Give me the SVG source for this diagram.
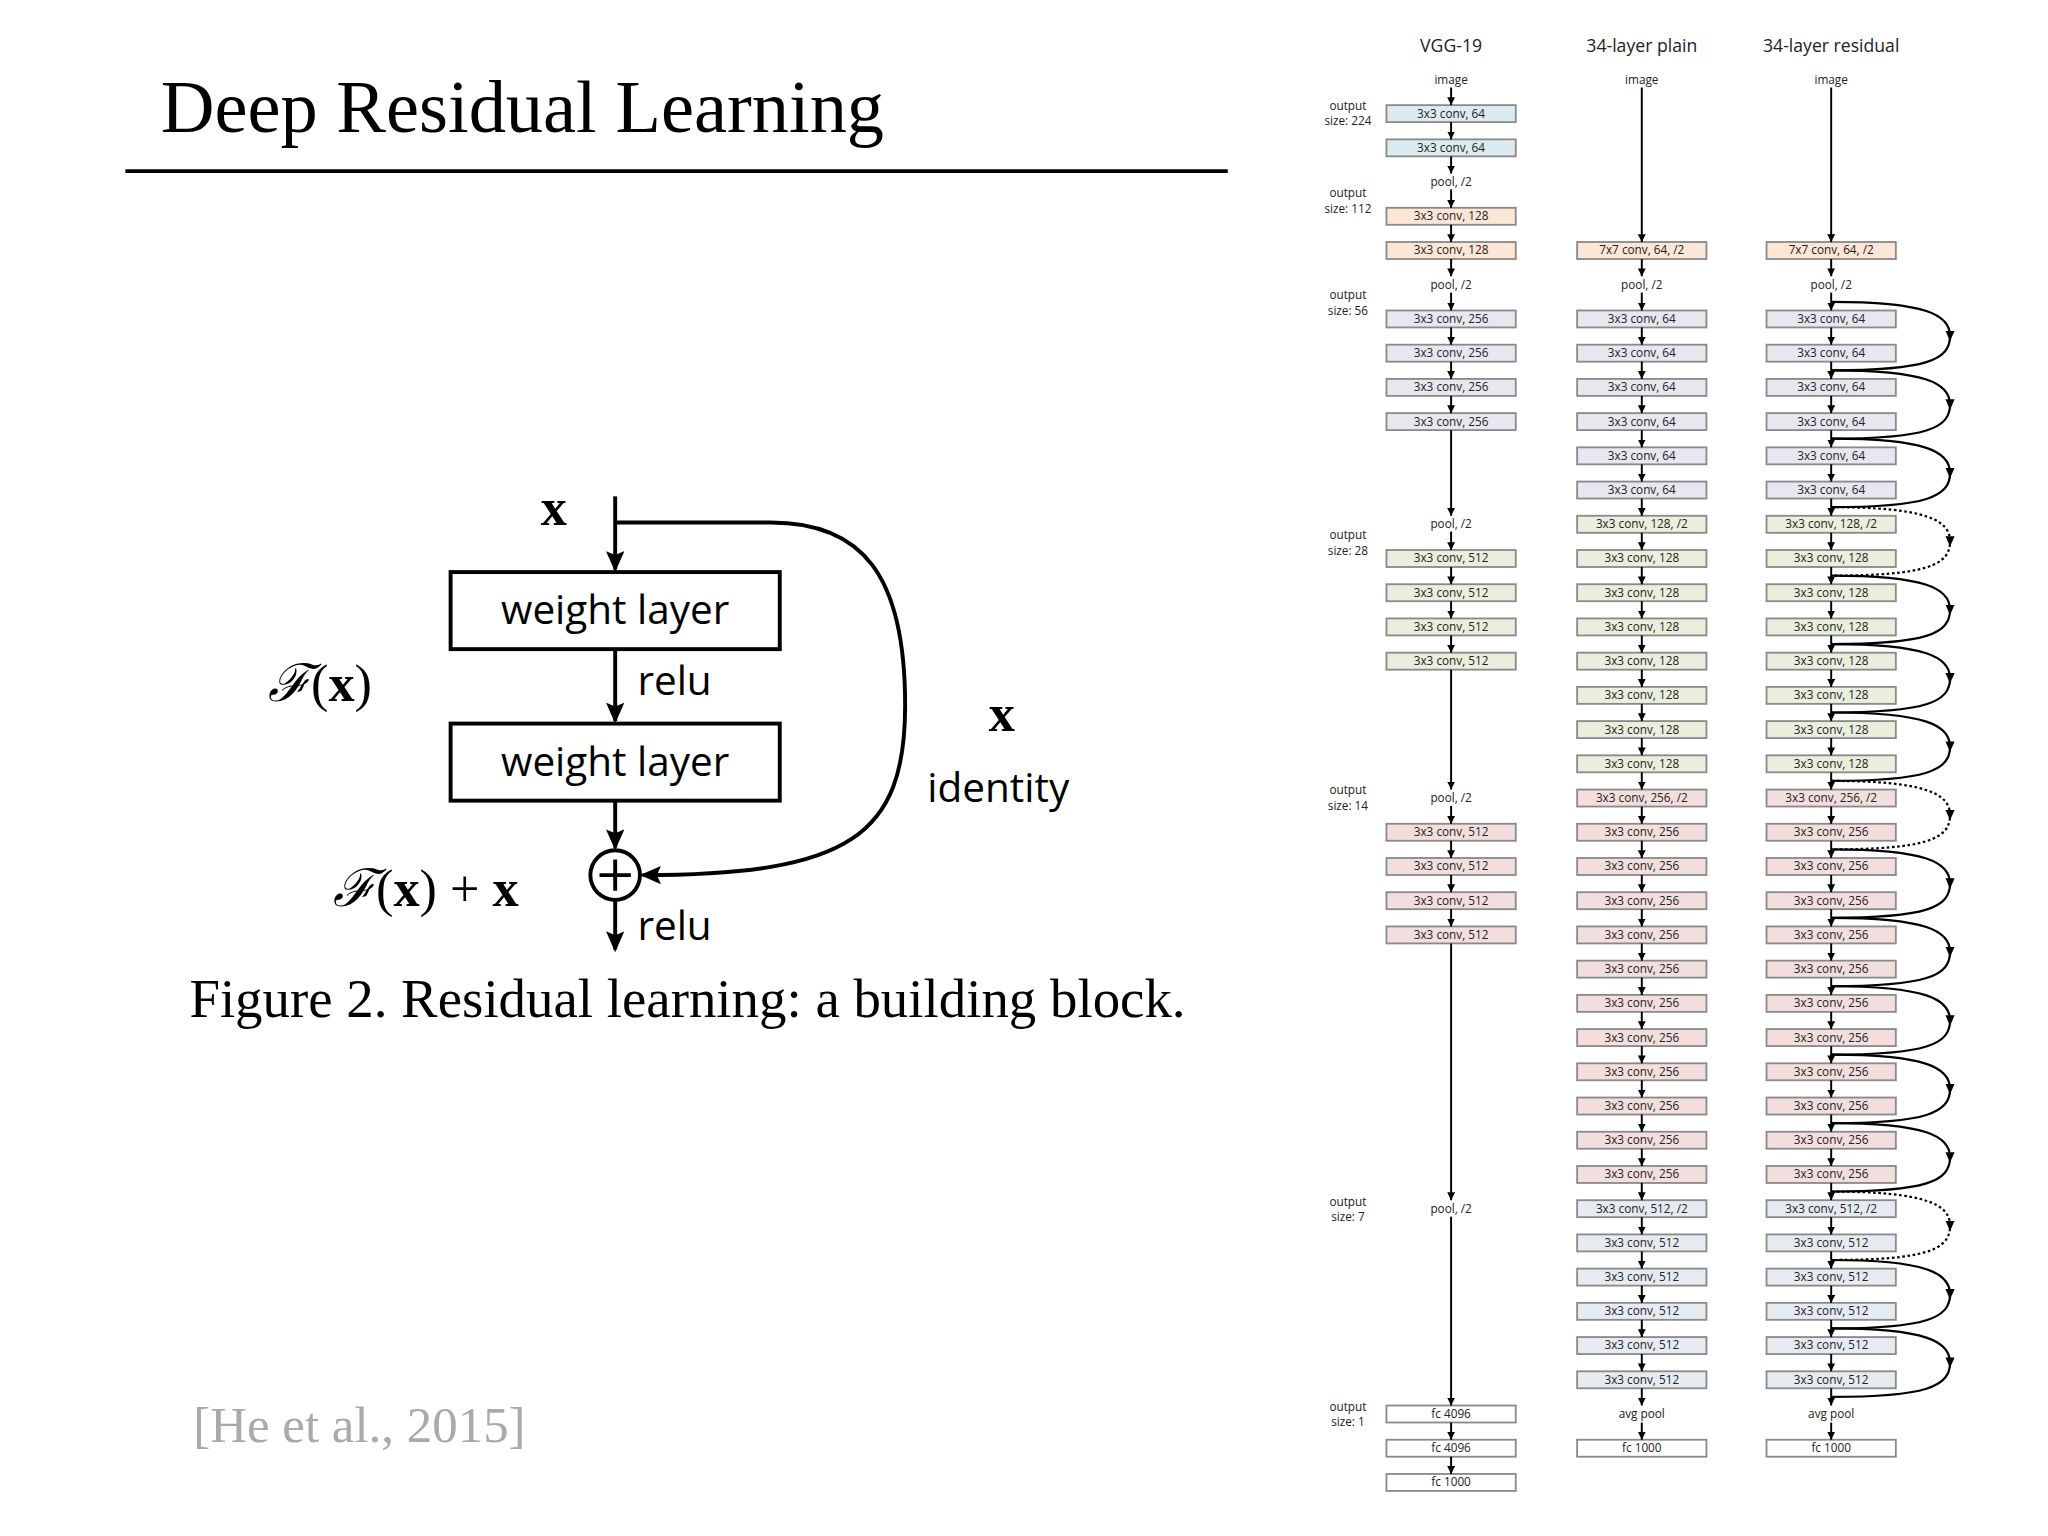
<svg xmlns="http://www.w3.org/2000/svg" width="2048" height="1536" viewBox="0 0 2048 1536">
<style>
.b{stroke:#8a8a8a;stroke-width:1.4}
.t{font-family:"Open Sans","Liberation Sans",sans-serif;font-size:9px;text-anchor:middle;fill:#222}
.h{font-family:"Open Sans","Liberation Sans",sans-serif;font-size:13.5px;text-anchor:middle;fill:#222}
.o{font-family:"Open Sans","Liberation Sans",sans-serif;font-size:9px;text-anchor:middle;fill:#222}
.a{stroke:#000;stroke-width:1.5;fill:none;marker-end:url(#ah)}
.s{stroke:#000;stroke-width:1.7;fill:none;marker-mid:url(#am)}
.d{stroke:#000;stroke-width:1.7;fill:none;stroke-dasharray:2 2;marker-mid:url(#am)}
.c1{fill:#dcebf0}.c2{fill:#fce6d6}.c3{fill:#e8e7f0}.c4{fill:#e9efdc}.c5{fill:#f3dede}.c6{fill:#e5ebf1}.c7{fill:#fff}
.L{font-family:"Open Sans","Liberation Sans",sans-serif;font-size:31px;fill:#000}
.F{font-family:"Liberation Serif",serif}
.fl{stroke:#000;stroke-width:3;fill:none}
.fa{stroke:#000;stroke-width:3;fill:none;marker-end:url(#fh)}
</style>
<defs>
<marker id="ah" markerUnits="userSpaceOnUse" markerWidth="8" markerHeight="8" refX="6" refY="3" orient="auto"><path d="M0,0L6,3L0,6z" fill="#000"/></marker>
<marker id="am" markerUnits="userSpaceOnUse" markerWidth="10" markerHeight="10" refX="4" refY="3.5" orient="auto"><path d="M0,0L8,3.5L0,7z" fill="#000"/></marker>
<marker id="fh" markerUnits="userSpaceOnUse" markerWidth="20" markerHeight="20" refX="14" refY="7" orient="auto"><path d="M0,0L16,7L0,14L3,7z" fill="#000"/></marker>
</defs>
<rect width="2048" height="1536" fill="#fff"/>
<g transform="scale(1.30612)">
<g id="left">
<text x="123" y="101" class="F" font-size="57" fill="#000">Deep Residual Learning</text>
<line x1="96" y1="131" x2="940" y2="131" stroke="#000" stroke-width="3"/>
<g id="wl1"><rect x="345" y="438" width="252" height="59" class="fl"/><text x="471" y="478" class="L" text-anchor="middle">weight layer</text></g>
<g id="wl2"><rect x="345" y="554" width="252" height="59" class="fl"/><text x="471" y="594" class="L" text-anchor="middle">weight layer</text></g>
<g id="plus"><circle cx="471" cy="670" r="19" class="fl"/><path d="M471,658V682M459,670H483" class="fl"/></g>
<g id="fconn">
<path d="M471,380V436" class="fa"/>
<path d="M471,497V552" class="fa"/>
<path d="M471,613V649" class="fa"/>
<path d="M471,689V727" class="fa"/>
<path d="M471,400H590C660,400 693,440 693,540C693,640 650,670 492,670" class="fa"/>
</g>
<text x="424" y="402" class="F" font-size="40" font-weight="bold" text-anchor="middle" fill="#000">x</text>
<text x="245" y="537" class="F" font-size="40" text-anchor="middle" fill="#000"><tspan font-style="italic">ℱ</tspan>(<tspan font-weight="bold">x</tspan>)</text>
<text x="488" y="532" class="L">relu</text>
<text x="767" y="560" class="F" font-size="40" font-weight="bold" text-anchor="middle" fill="#000">x</text>
<text x="710" y="614" class="L" font-size="32">identity</text>
<text x="326" y="694" class="F" font-size="40" text-anchor="middle" fill="#000"><tspan font-style="italic">ℱ</tspan>(<tspan font-weight="bold">x</tspan>) + <tspan font-weight="bold">x</tspan></text>
<text x="488" y="720" class="L">relu</text>
<text x="145" y="779" class="F" font-size="42" fill="#000">Figure 2. Residual learning: a building block.</text>
<text x="148" y="1104" class="F" font-size="39" fill="#aaaaaa">[He et al., 2015]</text>
</g>
<g id="titles">
<text x="1111" y="40" class="h">VGG-19</text><text x="1257" y="40" class="h">34-layer plain</text><text x="1402" y="40" class="h">34-layer residual</text>
<text x="1111" y="64" class="t">image</text><text x="1257" y="64" class="t">image</text><text x="1402" y="64" class="t">image</text>
<text x="1032" y="84" class="o">output</text><text x="1032" y="96" class="o">size: 224</text>
<text x="1032" y="151" class="o">output</text><text x="1032" y="163" class="o">size: 112</text>
<text x="1032" y="229" class="o">output</text><text x="1032" y="241" class="o">size: 56</text>
<text x="1032" y="413" class="o">output</text><text x="1032" y="425" class="o">size: 28</text>
<text x="1032" y="608" class="o">output</text><text x="1032" y="620" class="o">size: 14</text>
<text x="1032" y="923" class="o">output</text><text x="1032" y="935" class="o">size: 7</text>
<text x="1032" y="1080" class="o">output</text><text x="1032" y="1092" class="o">size: 1</text>
</g>
<g id="vgg">
<rect x="1061.5" y="80.5" width="99" height="13" class="b c1"/><text x="1111" y="90" class="t">3x3 conv, 64</text>
<rect x="1061.5" y="106.7" width="99" height="13" class="b c1"/><text x="1111" y="116.2" class="t">3x3 conv, 64</text>
<text x="1111" y="142.4" class="t">pool, /2</text>
<rect x="1061.5" y="159.1" width="99" height="13" class="b c2"/><text x="1111" y="168.6" class="t">3x3 conv, 128</text>
<rect x="1061.5" y="185.3" width="99" height="13" class="b c2"/><text x="1111" y="194.8" class="t">3x3 conv, 128</text>
<text x="1111" y="221" class="t">pool, /2</text>
<rect x="1061.5" y="237.7" width="99" height="13" class="b c3"/><text x="1111" y="247.2" class="t">3x3 conv, 256</text>
<rect x="1061.5" y="263.9" width="99" height="13" class="b c3"/><text x="1111" y="273.4" class="t">3x3 conv, 256</text>
<rect x="1061.5" y="290.1" width="99" height="13" class="b c3"/><text x="1111" y="299.6" class="t">3x3 conv, 256</text>
<rect x="1061.5" y="316.3" width="99" height="13" class="b c3"/><text x="1111" y="325.8" class="t">3x3 conv, 256</text>
<text x="1111" y="404.4" class="t">pool, /2</text>
<rect x="1061.5" y="421.1" width="99" height="13" class="b c4"/><text x="1111" y="430.6" class="t">3x3 conv, 512</text>
<rect x="1061.5" y="447.3" width="99" height="13" class="b c4"/><text x="1111" y="456.8" class="t">3x3 conv, 512</text>
<rect x="1061.5" y="473.5" width="99" height="13" class="b c4"/><text x="1111" y="483" class="t">3x3 conv, 512</text>
<rect x="1061.5" y="499.7" width="99" height="13" class="b c4"/><text x="1111" y="509.2" class="t">3x3 conv, 512</text>
<text x="1111" y="614" class="t">pool, /2</text>
<rect x="1061.5" y="630.7" width="99" height="13" class="b c5"/><text x="1111" y="640.2" class="t">3x3 conv, 512</text>
<rect x="1061.5" y="656.9" width="99" height="13" class="b c5"/><text x="1111" y="666.4" class="t">3x3 conv, 512</text>
<rect x="1061.5" y="683.1" width="99" height="13" class="b c5"/><text x="1111" y="692.6" class="t">3x3 conv, 512</text>
<rect x="1061.5" y="709.3" width="99" height="13" class="b c5"/><text x="1111" y="718.8" class="t">3x3 conv, 512</text>
<text x="1111" y="928.4" class="t">pool, /2</text>
<rect x="1061.5" y="1076.1" width="99" height="13" class="b c7"/><text x="1111" y="1085.6" class="t">fc 4096</text>
<rect x="1061.5" y="1102.3" width="99" height="13" class="b c7"/><text x="1111" y="1111.8" class="t">fc 4096</text>
<rect x="1061.5" y="1128.5" width="99" height="13" class="b c7"/><text x="1111" y="1138" class="t">fc 1000</text>
</g>
<g id="plain">
<rect x="1207.5" y="185.3" width="99" height="13" class="b c2"/><text x="1257" y="194.8" class="t">7x7 conv, 64, /2</text>
<text x="1257" y="221" class="t">pool, /2</text>
<rect x="1207.5" y="237.7" width="99" height="13" class="b c3"/><text x="1257" y="247.2" class="t">3x3 conv, 64</text>
<rect x="1207.5" y="263.9" width="99" height="13" class="b c3"/><text x="1257" y="273.4" class="t">3x3 conv, 64</text>
<rect x="1207.5" y="290.1" width="99" height="13" class="b c3"/><text x="1257" y="299.6" class="t">3x3 conv, 64</text>
<rect x="1207.5" y="316.3" width="99" height="13" class="b c3"/><text x="1257" y="325.8" class="t">3x3 conv, 64</text>
<rect x="1207.5" y="342.5" width="99" height="13" class="b c3"/><text x="1257" y="352" class="t">3x3 conv, 64</text>
<rect x="1207.5" y="368.7" width="99" height="13" class="b c3"/><text x="1257" y="378.2" class="t">3x3 conv, 64</text>
<rect x="1207.5" y="394.9" width="99" height="13" class="b c4"/><text x="1257" y="404.4" class="t">3x3 conv, 128, /2</text>
<rect x="1207.5" y="421.1" width="99" height="13" class="b c4"/><text x="1257" y="430.6" class="t">3x3 conv, 128</text>
<rect x="1207.5" y="447.3" width="99" height="13" class="b c4"/><text x="1257" y="456.8" class="t">3x3 conv, 128</text>
<rect x="1207.5" y="473.5" width="99" height="13" class="b c4"/><text x="1257" y="483" class="t">3x3 conv, 128</text>
<rect x="1207.5" y="499.7" width="99" height="13" class="b c4"/><text x="1257" y="509.2" class="t">3x3 conv, 128</text>
<rect x="1207.5" y="525.9" width="99" height="13" class="b c4"/><text x="1257" y="535.4" class="t">3x3 conv, 128</text>
<rect x="1207.5" y="552.1" width="99" height="13" class="b c4"/><text x="1257" y="561.6" class="t">3x3 conv, 128</text>
<rect x="1207.5" y="578.3" width="99" height="13" class="b c4"/><text x="1257" y="587.8" class="t">3x3 conv, 128</text>
<rect x="1207.5" y="604.5" width="99" height="13" class="b c5"/><text x="1257" y="614" class="t">3x3 conv, 256, /2</text>
<rect x="1207.5" y="630.7" width="99" height="13" class="b c5"/><text x="1257" y="640.2" class="t">3x3 conv, 256</text>
<rect x="1207.5" y="656.9" width="99" height="13" class="b c5"/><text x="1257" y="666.4" class="t">3x3 conv, 256</text>
<rect x="1207.5" y="683.1" width="99" height="13" class="b c5"/><text x="1257" y="692.6" class="t">3x3 conv, 256</text>
<rect x="1207.5" y="709.3" width="99" height="13" class="b c5"/><text x="1257" y="718.8" class="t">3x3 conv, 256</text>
<rect x="1207.5" y="735.5" width="99" height="13" class="b c5"/><text x="1257" y="745" class="t">3x3 conv, 256</text>
<rect x="1207.5" y="761.7" width="99" height="13" class="b c5"/><text x="1257" y="771.2" class="t">3x3 conv, 256</text>
<rect x="1207.5" y="787.9" width="99" height="13" class="b c5"/><text x="1257" y="797.4" class="t">3x3 conv, 256</text>
<rect x="1207.5" y="814.1" width="99" height="13" class="b c5"/><text x="1257" y="823.6" class="t">3x3 conv, 256</text>
<rect x="1207.5" y="840.3" width="99" height="13" class="b c5"/><text x="1257" y="849.8" class="t">3x3 conv, 256</text>
<rect x="1207.5" y="866.5" width="99" height="13" class="b c5"/><text x="1257" y="876" class="t">3x3 conv, 256</text>
<rect x="1207.5" y="892.7" width="99" height="13" class="b c5"/><text x="1257" y="902.2" class="t">3x3 conv, 256</text>
<rect x="1207.5" y="918.9" width="99" height="13" class="b c6"/><text x="1257" y="928.4" class="t">3x3 conv, 512, /2</text>
<rect x="1207.5" y="945.1" width="99" height="13" class="b c6"/><text x="1257" y="954.6" class="t">3x3 conv, 512</text>
<rect x="1207.5" y="971.3" width="99" height="13" class="b c6"/><text x="1257" y="980.8" class="t">3x3 conv, 512</text>
<rect x="1207.5" y="997.5" width="99" height="13" class="b c6"/><text x="1257" y="1007" class="t">3x3 conv, 512</text>
<rect x="1207.5" y="1023.7" width="99" height="13" class="b c6"/><text x="1257" y="1033.2" class="t">3x3 conv, 512</text>
<rect x="1207.5" y="1049.9" width="99" height="13" class="b c6"/><text x="1257" y="1059.4" class="t">3x3 conv, 512</text>
<text x="1257" y="1085.6" class="t">avg pool</text>
<rect x="1207.5" y="1102.3" width="99" height="13" class="b c7"/><text x="1257" y="1111.8" class="t">fc 1000</text>
</g>
<g id="residual">
<rect x="1352.5" y="185.3" width="99" height="13" class="b c2"/><text x="1402" y="194.8" class="t">7x7 conv, 64, /2</text>
<text x="1402" y="221" class="t">pool, /2</text>
<rect x="1352.5" y="237.7" width="99" height="13" class="b c3"/><text x="1402" y="247.2" class="t">3x3 conv, 64</text>
<rect x="1352.5" y="263.9" width="99" height="13" class="b c3"/><text x="1402" y="273.4" class="t">3x3 conv, 64</text>
<rect x="1352.5" y="290.1" width="99" height="13" class="b c3"/><text x="1402" y="299.6" class="t">3x3 conv, 64</text>
<rect x="1352.5" y="316.3" width="99" height="13" class="b c3"/><text x="1402" y="325.8" class="t">3x3 conv, 64</text>
<rect x="1352.5" y="342.5" width="99" height="13" class="b c3"/><text x="1402" y="352" class="t">3x3 conv, 64</text>
<rect x="1352.5" y="368.7" width="99" height="13" class="b c3"/><text x="1402" y="378.2" class="t">3x3 conv, 64</text>
<rect x="1352.5" y="394.9" width="99" height="13" class="b c4"/><text x="1402" y="404.4" class="t">3x3 conv, 128, /2</text>
<rect x="1352.5" y="421.1" width="99" height="13" class="b c4"/><text x="1402" y="430.6" class="t">3x3 conv, 128</text>
<rect x="1352.5" y="447.3" width="99" height="13" class="b c4"/><text x="1402" y="456.8" class="t">3x3 conv, 128</text>
<rect x="1352.5" y="473.5" width="99" height="13" class="b c4"/><text x="1402" y="483" class="t">3x3 conv, 128</text>
<rect x="1352.5" y="499.7" width="99" height="13" class="b c4"/><text x="1402" y="509.2" class="t">3x3 conv, 128</text>
<rect x="1352.5" y="525.9" width="99" height="13" class="b c4"/><text x="1402" y="535.4" class="t">3x3 conv, 128</text>
<rect x="1352.5" y="552.1" width="99" height="13" class="b c4"/><text x="1402" y="561.6" class="t">3x3 conv, 128</text>
<rect x="1352.5" y="578.3" width="99" height="13" class="b c4"/><text x="1402" y="587.8" class="t">3x3 conv, 128</text>
<rect x="1352.5" y="604.5" width="99" height="13" class="b c5"/><text x="1402" y="614" class="t">3x3 conv, 256, /2</text>
<rect x="1352.5" y="630.7" width="99" height="13" class="b c5"/><text x="1402" y="640.2" class="t">3x3 conv, 256</text>
<rect x="1352.5" y="656.9" width="99" height="13" class="b c5"/><text x="1402" y="666.4" class="t">3x3 conv, 256</text>
<rect x="1352.5" y="683.1" width="99" height="13" class="b c5"/><text x="1402" y="692.6" class="t">3x3 conv, 256</text>
<rect x="1352.5" y="709.3" width="99" height="13" class="b c5"/><text x="1402" y="718.8" class="t">3x3 conv, 256</text>
<rect x="1352.5" y="735.5" width="99" height="13" class="b c5"/><text x="1402" y="745" class="t">3x3 conv, 256</text>
<rect x="1352.5" y="761.7" width="99" height="13" class="b c5"/><text x="1402" y="771.2" class="t">3x3 conv, 256</text>
<rect x="1352.5" y="787.9" width="99" height="13" class="b c5"/><text x="1402" y="797.4" class="t">3x3 conv, 256</text>
<rect x="1352.5" y="814.1" width="99" height="13" class="b c5"/><text x="1402" y="823.6" class="t">3x3 conv, 256</text>
<rect x="1352.5" y="840.3" width="99" height="13" class="b c5"/><text x="1402" y="849.8" class="t">3x3 conv, 256</text>
<rect x="1352.5" y="866.5" width="99" height="13" class="b c5"/><text x="1402" y="876" class="t">3x3 conv, 256</text>
<rect x="1352.5" y="892.7" width="99" height="13" class="b c5"/><text x="1402" y="902.2" class="t">3x3 conv, 256</text>
<rect x="1352.5" y="918.9" width="99" height="13" class="b c6"/><text x="1402" y="928.4" class="t">3x3 conv, 512, /2</text>
<rect x="1352.5" y="945.1" width="99" height="13" class="b c6"/><text x="1402" y="954.6" class="t">3x3 conv, 512</text>
<rect x="1352.5" y="971.3" width="99" height="13" class="b c6"/><text x="1402" y="980.8" class="t">3x3 conv, 512</text>
<rect x="1352.5" y="997.5" width="99" height="13" class="b c6"/><text x="1402" y="1007" class="t">3x3 conv, 512</text>
<rect x="1352.5" y="1023.7" width="99" height="13" class="b c6"/><text x="1402" y="1033.2" class="t">3x3 conv, 512</text>
<rect x="1352.5" y="1049.9" width="99" height="13" class="b c6"/><text x="1402" y="1059.4" class="t">3x3 conv, 512</text>
<text x="1402" y="1085.6" class="t">avg pool</text>
<rect x="1352.5" y="1102.3" width="99" height="13" class="b c7"/><text x="1402" y="1111.8" class="t">fc 1000</text>
</g>
<g id="connectors">
<path class="a" d="M1111,67V80.5"/>
<path class="a" d="M1111,93.5V106.7"/><path class="a" d="M1111,119.7V132.9"/><path class="a" d="M1111,145V159.1"/><path class="a" d="M1111,172.1V185.3"/><path class="a" d="M1111,198.3V211.5"/><path class="a" d="M1111,224V237.7"/><path class="a" d="M1111,250.7V263.9"/><path class="a" d="M1111,276.9V290.1"/><path class="a" d="M1111,303.1V316.3"/><path class="a" d="M1111,329.3V394.9"/><path class="a" d="M1111,407V421.1"/><path class="a" d="M1111,434.1V447.3"/><path class="a" d="M1111,460.3V473.5"/><path class="a" d="M1111,486.5V499.7"/><path class="a" d="M1111,512.7V604.5"/><path class="a" d="M1111,617V630.7"/><path class="a" d="M1111,643.7V656.9"/><path class="a" d="M1111,669.9V683.1"/><path class="a" d="M1111,696.1V709.3"/><path class="a" d="M1111,722.3V918.9"/><path class="a" d="M1111,931.5V1076.1"/><path class="a" d="M1111,1089.1V1102.3"/><path class="a" d="M1111,1115.3V1128.5"/>
<path class="a" d="M1257,67V185.3"/><path class="a" d="M1257,198.3V211.5"/><path class="a" d="M1257,224V237.7"/><path class="a" d="M1257,250.7V263.9"/><path class="a" d="M1257,276.9V290.1"/><path class="a" d="M1257,303.1V316.3"/><path class="a" d="M1257,329.3V342.5"/><path class="a" d="M1257,355.5V368.7"/><path class="a" d="M1257,381.7V394.9"/><path class="a" d="M1257,407.9V421.1"/><path class="a" d="M1257,434.1V447.3"/><path class="a" d="M1257,460.3V473.5"/><path class="a" d="M1257,486.5V499.7"/><path class="a" d="M1257,512.7V525.9"/><path class="a" d="M1257,538.9V552.1"/><path class="a" d="M1257,565.1V578.3"/><path class="a" d="M1257,591.3V604.5"/><path class="a" d="M1257,617.5V630.7"/><path class="a" d="M1257,643.7V656.9"/><path class="a" d="M1257,669.9V683.1"/><path class="a" d="M1257,696.1V709.3"/><path class="a" d="M1257,722.3V735.5"/><path class="a" d="M1257,748.5V761.7"/><path class="a" d="M1257,774.7V787.9"/><path class="a" d="M1257,800.9V814.1"/><path class="a" d="M1257,827.1V840.3"/><path class="a" d="M1257,853.3V866.5"/><path class="a" d="M1257,879.5V892.7"/><path class="a" d="M1257,905.7V918.9"/><path class="a" d="M1257,931.9V945.1"/><path class="a" d="M1257,958.1V971.3"/><path class="a" d="M1257,984.3V997.5"/><path class="a" d="M1257,1010.5V1023.7"/><path class="a" d="M1257,1036.7V1049.9"/><path class="a" d="M1257,1062.9V1076.1"/><path class="a" d="M1257,1089.1V1102.3"/>
<path class="a" d="M1402,67V185.3"/><path class="a" d="M1402,198.3V211.5"/><path class="a" d="M1402,224V237.7"/><path class="a" d="M1402,250.7V263.9"/><path class="a" d="M1402,276.9V290.1"/><path class="a" d="M1402,303.1V316.3"/><path class="a" d="M1402,329.3V342.5"/><path class="a" d="M1402,355.5V368.7"/><path class="a" d="M1402,381.7V394.9"/><path class="a" d="M1402,407.9V421.1"/><path class="a" d="M1402,434.1V447.3"/><path class="a" d="M1402,460.3V473.5"/><path class="a" d="M1402,486.5V499.7"/><path class="a" d="M1402,512.7V525.9"/><path class="a" d="M1402,538.9V552.1"/><path class="a" d="M1402,565.1V578.3"/><path class="a" d="M1402,591.3V604.5"/><path class="a" d="M1402,617.5V630.7"/><path class="a" d="M1402,643.7V656.9"/><path class="a" d="M1402,669.9V683.1"/><path class="a" d="M1402,696.1V709.3"/><path class="a" d="M1402,722.3V735.5"/><path class="a" d="M1402,748.5V761.7"/><path class="a" d="M1402,774.7V787.9"/><path class="a" d="M1402,800.9V814.1"/><path class="a" d="M1402,827.1V840.3"/><path class="a" d="M1402,853.3V866.5"/><path class="a" d="M1402,879.5V892.7"/><path class="a" d="M1402,905.7V918.9"/><path class="a" d="M1402,931.9V945.1"/><path class="a" d="M1402,958.1V971.3"/><path class="a" d="M1402,984.3V997.5"/><path class="a" d="M1402,1010.5V1023.7"/><path class="a" d="M1402,1036.7V1049.9"/><path class="a" d="M1402,1062.9V1076.1"/><path class="a" d="M1402,1089.1V1102.3"/>
<path class="s" d="M1402,231.1C1475,231.1 1493,241.1 1493,257.3C1493,275.5 1475,283.5 1402,283.5"/>
<path class="s" d="M1402,283.5C1475,283.5 1493,293.5 1493,309.7C1493,327.9 1475,335.9 1402,335.9"/>
<path class="s" d="M1402,335.9C1475,335.9 1493,345.9 1493,362.1C1493,380.3 1475,388.3 1402,388.3"/>
<path class="d" d="M1402,388.3C1475,388.3 1493,398.3 1493,414.5C1493,432.7 1475,440.7 1402,440.7"/>
<path class="s" d="M1402,440.7C1475,440.7 1493,450.7 1493,466.9C1493,485.1 1475,493.1 1402,493.1"/>
<path class="s" d="M1402,493.1C1475,493.1 1493,503.1 1493,519.3C1493,537.5 1475,545.5 1402,545.5"/>
<path class="s" d="M1402,545.5C1475,545.5 1493,555.5 1493,571.7C1493,589.9 1475,597.9 1402,597.9"/>
<path class="d" d="M1402,597.9C1475,597.9 1493,607.9 1493,624.1C1493,642.3 1475,650.3 1402,650.3"/>
<path class="s" d="M1402,650.3C1475,650.3 1493,660.3 1493,676.5C1493,694.7 1475,702.7 1402,702.7"/>
<path class="s" d="M1402,702.7C1475,702.7 1493,712.7 1493,728.9C1493,747.1 1475,755.1 1402,755.1"/>
<path class="s" d="M1402,755.1C1475,755.1 1493,765.1 1493,781.3C1493,799.5 1475,807.5 1402,807.5"/>
<path class="s" d="M1402,807.5C1475,807.5 1493,817.5 1493,833.7C1493,851.9 1475,859.9 1402,859.9"/>
<path class="s" d="M1402,859.9C1475,859.9 1493,869.9 1493,886.1C1493,904.3 1475,912.3 1402,912.3"/>
<path class="d" d="M1402,912.3C1475,912.3 1493,922.3 1493,938.5C1493,956.7 1475,964.7 1402,964.7"/>
<path class="s" d="M1402,964.7C1475,964.7 1493,974.7 1493,990.9C1493,1009.1 1475,1017.1 1402,1017.1"/>
<path class="s" d="M1402,1017.1C1475,1017.1 1493,1027.1 1493,1043.3C1493,1061.5 1475,1069.5 1402,1069.5"/>
</g>
</g>
</svg>
